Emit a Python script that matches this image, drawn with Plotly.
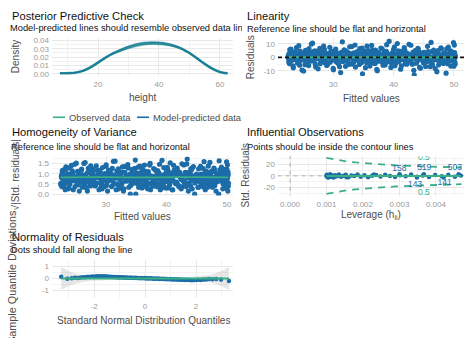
import numpy as np
import plotly.graph_objects as go

# ---------------- data ----------------
# Posterior predictive check: density curves
dens_x = [7.5, 10, 12.5, 15, 17.5, 20, 22.5, 25, 27.5, 30, 32.5, 35, 37.5, 40,
          42.5, 45, 47.5, 50, 52.5, 55, 57.5, 60, 62.5]
obs_density = [0.0007, 0.0008, 0.0014, 0.0036, 0.0078, 0.0135, 0.0195, 0.0245, 0.0283,
               0.0318, 0.0345, 0.0362, 0.0368, 0.0365, 0.0355, 0.0335, 0.0300, 0.0250,
               0.0185, 0.0120, 0.0062, 0.0022, 0.0006]
pred_density_1 = [0.0006, 0.0009, 0.0016, 0.0034, 0.0072, 0.0128, 0.0190, 0.0246, 0.0292,
                  0.0332, 0.0362, 0.0380, 0.0386, 0.0382, 0.0368, 0.0342, 0.0304, 0.0250,
                  0.0182, 0.0116, 0.0058, 0.0020, 0.0005]
pred_density_2 = [0.0008, 0.0011, 0.0019, 0.0043, 0.0088, 0.0146, 0.0202, 0.0246, 0.0278,
                  0.0304, 0.0326, 0.0344, 0.0352, 0.0350, 0.0342, 0.0326, 0.0296, 0.0252,
                  0.0192, 0.0128, 0.0070, 0.0026, 0.0008]
pred_density_3 = [0.0005, 0.0007, 0.0012, 0.0031, 0.0070, 0.0130, 0.0198, 0.0256, 0.0298,
                  0.0330, 0.0354, 0.0370, 0.0377, 0.0376, 0.0366, 0.0344, 0.0306, 0.0254,
                  0.0186, 0.0117, 0.0058, 0.0019, 0.0005]
pred_density_4 = [0.0007, 0.0009, 0.0015, 0.0038, 0.0082, 0.0140, 0.0194, 0.0238, 0.0272,
                  0.0306, 0.0334, 0.0350, 0.0358, 0.0356, 0.0348, 0.0330, 0.0298, 0.0248,
                  0.0184, 0.0122, 0.0064, 0.0024, 0.0007]
pred_density_5 = [0.0006, 0.0008, 0.0013, 0.0033, 0.0074, 0.0134, 0.0200, 0.0252, 0.0290,
                  0.0322, 0.0348, 0.0366, 0.0374, 0.0371, 0.0360, 0.0338, 0.0300, 0.0247,
                  0.0180, 0.0115, 0.0059, 0.0021, 0.0006]
pred_densities = [pred_density_1, pred_density_2, pred_density_3, pred_density_4, pred_density_5]

# Fitted values and residuals (linearity / homogeneity), two batches of observations
fitted_a = [
    22.52, 22.61, 22.70, 22.79, 22.93,
    23.04, 23.18, 23.33, 23.41, 23.62, 23.77, 23.90,
    24.06, 24.15, 24.37, 24.49, 24.58, 24.81, 24.95,
    25.02, 25.23, 25.31, 25.50, 25.66, 25.74, 25.97,
    26.11, 26.20, 26.42, 26.55, 26.63, 26.86, 26.92,
    27.08, 27.27, 27.35, 27.54, 27.69, 27.83, 27.96,
    28.05, 28.21, 28.39, 28.47, 28.64, 28.78, 28.91,
    29.13, 29.24, 29.36, 29.52, 29.71, 29.80, 29.98,
    30.07, 30.19, 30.40, 30.46, 30.61, 30.85, 30.93,
    31.10, 31.22, 31.34, 31.57, 31.68, 31.79, 31.94,
    32.03, 32.26, 32.38, 32.45, 32.67, 32.72, 32.89,
    33.12, 33.20, 33.43, 33.51, 33.60, 33.84, 33.97,
    34.09, 34.17, 34.31, 34.56, 34.70, 34.76, 34.92,
    35.01, 35.25, 35.33, 35.48, 35.65, 35.81, 35.95,
    36.14, 36.22, 36.36, 36.45, 36.53, 36.60, 36.88, 36.99,
    37.06, 37.29, 37.41, 37.50, 37.73, 37.82, 37.94,
    38.10, 38.18, 38.35, 38.58, 38.66, 38.79, 38.97,
    39.04, 39.26, 39.39, 39.47, 39.63, 39.87, 39.91,
    40.12, 40.21, 40.33, 40.52, 40.69, 40.75, 40.96,
    41.08, 41.16, 41.38, 41.49, 41.64, 41.83, 41.92,
    42.05, 42.27, 42.34, 42.55, 42.68, 42.77, 42.99,
    43.11, 43.19, 43.42, 43.50, 43.61, 43.86, 43.93,
    44.02, 44.24, 44.30, 44.51, 44.72, 44.80, 44.97,
    45.13, 45.20, 45.37, 45.54, 45.62, 45.89, 45.94,
    46.07, 46.28, 46.35, 46.46, 46.71, 46.78, 46.95,
    47.09, 47.17, 47.40, 47.53, 47.66, 47.84, 47.98,
    48.03, 48.25, 48.32, 48.57, 48.63, 48.81, 48.90,
    49.15, 49.23, 49.44, 49.48, 49.70, 49.76, 49.93,
    50.04, 50.11, 50.14, 50.17, 50.21,
]
residuals_a = [
    1.2, -3.4, 0.6, 5.8, -2.1, -0.7, 3.9, -6.3, 2.4, -1.5,
    0.3, 7.2, -4.1, 1.8, -2.9, 4.6, -0.2, -9.3, 2.0, 3.1,
    -1.1, -5.4, 0.9, 2.7, -3.6, 6.5, -0.5, 1.4, -2.4, 10.4,
    4.0, -1.8, 0.1, -7.0, 2.2, -0.9, 3.3, 5.1, -4.7, 1.6,
    -2.6, 0.7, 8.3, -1.3, -3.9, 2.9, -5.9, 0.4, 1.1, -0.3,
    3.6, -2.2, 4.4, -8.1, 0.8, -1.6, 6.0, -3.1, 2.5, -4.4,
    -0.6, 1.9, -11.2, 3.7, -2.7, 0.2, 5.5, -1.0, -6.6, 2.3,
    0.5, -3.3, 1.3, 7.8, -0.1, -4.9, 2.6, 3.4, -1.9, 9.1,
    -2.0, 4.2, -0.8, 1.0, -5.2, 2.8, -3.7, 6.9, 0.0, -1.4,
    3.0, -7.6, 1.5, -2.5, 4.9, -0.4, 0.6, -3.0, 8.8, -1.7,
    -4.3, 2.1, 0.3, 5.3, -1.2, -9.8, 3.5, -2.8, 1.7, 0.9,
    -0.7, 6.3, -3.5, 2.4, -5.6, 1.1, 4.5, -0.2, -2.3, 11.9,
    1.8, -1.1, -4.0, 3.2, 0.4, 7.5, -6.1, 2.0, -0.9, -3.2,
    4.7, 0.2, -2.0, -8.7, 1.4, 3.9, -1.5, 5.7, -4.6, 0.6,
    -3.8, 2.6, 9.6, -0.6, -1.9, 1.2, -5.0, 3.6, -12.8, 2.9,
    0.1, -2.6, 4.1, 6.7, -0.3, -7.3, 1.9, -1.3, 3.0, -4.2,
    2.2, -0.5, -3.4, 1.5, 8.1, -2.1, 0.8, -6.8, 4.3, -1.0,
    -5.5, 3.8, 0.5, -1.7, 2.7, -10.5, 5.0, -2.9, 1.0, 7.0,
    -0.8, 1.6, -4.5, 3.3, -2.4, 0.0, 6.2, -3.9, 2.5, -1.6,
    4.8, -6.4, 1.3, -0.4, 10.9, -2.7, 3.5, -0.1, -5.1, 0.7,
]
fitted_b = [
    22.55, 22.66, 22.75, 22.86, 22.98,
    23.09, 23.25, 23.37, 23.50, 23.56, 23.70, 23.85,
    24.02, 24.11, 24.28, 24.42, 24.64, 24.73, 24.88,
    25.08, 25.17, 25.40, 25.45, 25.59, 25.81, 25.92,
    26.04, 26.26, 26.35, 26.49, 26.70, 26.77, 26.97,
    27.01, 27.19, 27.44, 27.48, 27.61, 27.76, 27.90,
    28.12, 28.16, 28.30, 28.53, 28.70, 28.84, 28.97,
    29.05, 29.18, 29.42, 29.47, 29.64, 29.75, 29.91,
    30.02, 30.26, 30.33, 30.53, 30.68, 30.77, 30.98,
    31.04, 31.16, 31.41, 31.50, 31.62, 31.86, 31.99,
    32.09, 32.19, 32.32, 32.52, 32.60, 32.80, 32.95,
    33.06, 33.27, 33.36, 33.47, 33.68, 33.77, 33.91,
    34.02, 34.24, 34.38, 34.49, 34.63, 34.84, 34.97,
    35.08, 35.18, 35.40, 35.55, 35.59, 35.73, 35.88,
    36.06, 36.28, 36.31, 36.40, 36.49, 36.67, 36.75, 36.93,
    37.12, 37.21, 37.35, 37.57, 37.63, 37.88, 37.99,
    38.04, 38.25, 38.41, 38.47, 38.72, 38.85, 38.91,
    39.10, 39.19, 39.32, 39.55, 39.69, 39.80, 39.97,
    40.05, 40.27, 40.40, 40.46, 40.61, 40.83, 40.90,
    41.02, 41.24, 41.30, 41.56, 41.71, 41.77, 41.98,
    42.11, 42.19, 42.42, 42.48, 42.61, 42.85, 42.93,
    43.04, 43.26, 43.35, 43.57, 43.68, 43.79, 43.98,
    44.09, 44.17, 44.38, 44.44, 44.65, 44.87, 44.91,
    45.06, 45.28, 45.31, 45.47, 45.70, 45.78, 45.99,
    46.13, 46.21, 46.41, 46.53, 46.64, 46.86, 46.90,
    47.03, 47.24, 47.33, 47.47, 47.59, 47.77, 47.91,
    48.10, 48.18, 48.40, 48.49, 48.70, 48.75, 48.96,
    49.08, 49.30, 49.36, 49.55, 49.62, 49.83, 49.97,
    50.01, 50.07, 50.12, 50.19, 50.23,
]
residuals_b = [
    -0.9, 2.8, -4.6, 1.4, 6.1, -2.3, 0.2, -7.7, 3.5, -1.3,
    4.3, -0.4, 1.0, -3.0, 8.6, -5.7, 2.2, -1.9, 0.6, -10.0,
    2.0, 5.2, -3.8, -0.1, 1.7, -6.0, 3.9, -2.6, 9.8, 0.8,
    -1.6, 0.4, 4.8, -4.9, 2.5, -0.7, -8.4, 1.2, 6.6, -3.3,
    3.1, -1.4, 0.9, 5.9, -2.9, -0.2, 2.6, -5.3, 1.5, 7.4,
    -3.6, 1.8, -0.6, 3.6, -9.0, 0.1, 4.5, -2.0, 2.9, -4.4,
    0.7, -6.9, 2.3, -1.1, 11.4, -3.1, 1.1, 5.0, -0.3, -2.7,
    4.1, -0.8, -5.1, 2.7, 0.3, 7.9, -1.8, -3.5, 1.9, -7.1,
    -0.5, 3.4, 0.0, -2.2, 6.4, -4.1, 1.3, -12.1, 2.4, 4.7,
    -1.2, 0.5, -3.9, 8.2, -0.9, 2.1, -6.4, 3.8, -2.4, 1.0,
    5.4, -1.5, 0.8, -4.5, 2.8, -8.8, 0.2, 3.2, -0.7, 6.8,
    -2.8, 1.6, -5.8, 0.6, 4.0, -1.0, 9.3, -3.4, 2.0, -0.4,
    0.9, -7.4, 3.0, -1.7, 5.6, -2.5, 0.4, -4.0, 1.4, 10.2,
    -3.2, 2.6, -0.2, 4.4, -6.2, 1.1, -1.4, 7.1, -0.8, 3.3,
    -5.0, 0.3, 2.2, -2.1, 8.9, -3.7, 1.7, -0.6, -9.5, 4.9,
    1.2, -4.3, 0.7, 6.0, -1.9, 3.5, -7.9, 0.0, 2.5, -2.9,
    3.7, -0.5, -6.7, 1.8, 4.2, -1.3, 0.6, -3.6, 11.0, -0.2,
    -2.2, 5.3, 1.4, -8.2, 2.9, -0.9, 4.6, -5.5, 0.5, 1.9,
    6.5, -3.0, 0.1, -1.6, 3.1, -11.6, 2.1, -4.7, 7.6, -0.3,
    -1.1, 4.0, -2.6, 0.8, -6.5, 2.4, 9.0, -0.6, -3.9, 1.3,
]
smooth_x = [22.5, 29.0, 36.0, 43.0, 50.2]
lin_smooth_y = [0.2, -0.1, 0.1, -0.1, 0.1]
homog_smooth_y = [0.82, 0.83, 0.82, 0.83, 0.82]

# Influential observations
inf_leverage = [
    0.00100, 0.00101, 0.00101, 0.00102, 0.00103, 0.00104, 0.00106, 0.00108, 0.00110, 0.00113,
    0.00116, 0.00120, 0.00124, 0.00129, 0.00134, 0.00140, 0.00146, 0.00153, 0.00160, 0.00168,
    0.00176, 0.00185, 0.00194, 0.00204, 0.00214, 0.00225, 0.00236, 0.00248, 0.00261, 0.00274,
    0.00288, 0.00302, 0.00317, 0.00332, 0.00348, 0.00364, 0.00381, 0.00398, 0.00416, 0.00434,
    0.00452, 0.00468, 0.00300, 0.00367, 0.00462, 0.00348, 0.00421, 0.00155, 0.00230, 0.00105,
]
inf_std_resid = [
    0.3, -1.2, 2.1, -0.5, 1.6, -2.4, 0.9, -0.1, 2.7, -1.8,
    0.5, -2.9, 1.3, -0.8, 2.3, -1.4, 0.2, 1.9, -2.2, 0.7,
    -0.4, 2.5, -1.6, 1.0, -2.6, 0.4, 1.7, -1.1, 2.0, -0.3,
    -1.9, 1.2, -0.6, 2.4, -1.3, 0.8, -2.1, 1.5, -0.7, 2.2,
    -1.5, 0.6, 2.8, 2.9, 2.8, -2.9, -2.7, -2.5, 2.6, -2.8,
]
inf_smooth_x = [0.00100, 0.00200, 0.00300, 0.00400, 0.00468]
inf_smooth_y = [0.0, 0.1, 0.0, -0.1, 0.0]
inf_label_text = ["158", "519", "503", "143", "141"]
inf_label_x = [0.00300, 0.00368, 0.00452, 0.00343, 0.00424]
inf_label_y = [11.4, 14.0, 14.0, -16.0, -12.0]
cook_lev = [0.0010, 0.0012, 0.0015, 0.0018, 0.0021, 0.0025, 0.0029, 0.0033, 0.0037, 0.0041, 0.0045, 0.0047]
cook_upper = [31.6, 28.8, 25.8, 23.5, 21.8, 20.0, 18.5, 17.4, 16.4, 15.6, 14.9, 14.6]
cook_lower = [-31.6, -28.8, -25.8, -23.5, -21.8, -20.0, -18.5, -17.4, -16.4, -15.6, -14.9, -14.6]
cook_label = "0.5"
cook_label_x = [0.00367, 0.00367]
cook_label_y = [32.0, -30.0]

# Normality of residuals (detrended QQ)
qq_x = [
    -3.29, -3.05, -2.88, -2.75, -2.63, -2.52, -2.42, -2.33, -2.24, -2.16,
    -2.08, -2.00, -1.93, -1.86, -1.79, -1.72, -1.65, -1.59, -1.52, -1.46,
    -1.40, -1.34, -1.28, -1.22, -1.16, -1.10, -1.04, -0.98, -0.92, -0.86,
    -0.80, -0.74, -0.68, -0.62, -0.56, -0.50, -0.44, -0.38, -0.32, -0.26,
    -0.20, -0.14, -0.08, -0.02, 0.04, 0.10, 0.16, 0.22, 0.28, 0.34,
    0.40, 0.46, 0.52, 0.58, 0.64, 0.70, 0.76, 0.82, 0.88, 0.94,
    1.00, 1.06, 1.12, 1.18, 1.24, 1.30, 1.36, 1.42, 1.49, 1.56,
    1.63, 1.70, 1.77, 1.84, 1.92, 2.00, 2.09, 2.18, 2.28, 2.39,
    2.51, 2.64, 2.79, 2.98, 3.29,
]
qq_dev = [
    0.15, -0.01, 0.03, 0.06, 0.05, 0.09, 0.12, 0.11, 0.15, 0.14,
    0.17, 0.15, 0.18, 0.19, 0.17, 0.20, 0.18, 0.19, 0.16, 0.17,
    0.14, 0.16, 0.13, 0.14, 0.12, 0.13, 0.10, 0.12, 0.09, 0.11,
    0.08, 0.09, 0.07, 0.08, 0.06, 0.07, 0.05, 0.06, 0.04, 0.05,
    0.03, 0.05, 0.02, 0.04, 0.01, 0.03, 0.00, 0.02, 0.01, -0.01,
    0.01, -0.02, 0.00, -0.03, -0.01, -0.04, -0.02, -0.05, -0.03, -0.06,
    -0.04, -0.07, -0.05, -0.08, -0.06, -0.09, -0.08, -0.10, -0.09, -0.11,
    -0.10, -0.12, -0.11, -0.13, -0.11, -0.12, -0.10, -0.11, -0.08, -0.07,
    -0.04, -0.05, -0.03, -0.08, -0.19,
]
band_x = [-3.29, -3.0, -2.75, -2.5, -2.25, -2.0, -1.5, -1.0, -0.5, 0.0,
          0.5, 1.0, 1.5, 2.0, 2.25, 2.5, 2.75, 3.0, 3.29]
band_hw = [0.95, 0.62, 0.42, 0.30, 0.22, 0.17, 0.12, 0.10, 0.09, 0.09,
           0.09, 0.10, 0.12, 0.17, 0.22, 0.30, 0.42, 0.62, 0.95]

# Tick labels
dens_xticks, dens_xlabels = [20, 40, 60], ["20", "40", "60"]
dens_yticks, dens_ylabels = [0, 0.01, 0.02, 0.03, 0.04], ["0.00", "0.01", "0.02", "0.03", "0.04"]
fit_xticks, fit_xlabels = [30, 40, 50], ["30", "40", "50"]
lin_yticks, lin_ylabels = [-10, 0, 10], ["-10", "0", "10"]
hom_yticks, hom_ylabels = [0, 0.5, 1.0, 1.5], ["0.0", "0.5", "1.0", "1.5"]
inf_xticks, inf_xlabels = [0, 0.001, 0.002, 0.003, 0.004], ["0.000", "0.001", "0.002", "0.003", "0.004"]
inf_yticks, inf_ylabels = [-20, 0, 20], ["-20", "0", "20"]
qq_xticks, qq_xlabels = [-2, 0, 2], ["-2", "0", "2"]
qq_yticks, qq_ylabels = [-1, 0, 1], ["-1", "0", "1"]

# ---------------- style ----------------
W, H = 474, 338
FONT = "Liberation Sans, Arial, sans-serif"
GREEN = "#3aaf85"
BLUE = "#1b6ca8"
GRID = "#e8e8e8"
GRID_MINOR = "#f3f3f3"
TICKC = "#9a9a9a"
AXT = "#4d4d4d"
TITLEC = "#111111"


def fx(px):
    return px / W


def fy(py):
    return 1 - py / H


LEFT = (52, 233)
RIGHT = (278, 464)
ROW1 = (37, 75)
ROW2 = (156.5, 196.5)
ROW3 = (262, 300)

fitted = fitted_a + fitted_b
residuals = residuals_a + residuals_b
# derived statistic: sqrt(|standardized residuals|)
res_arr = np.array(residuals)
homog_y = np.sqrt(np.abs(res_arr / res_arr.std()))

fig = go.Figure()

# Panel 1: posterior predictive check
fig.add_trace(go.Scatter(x=dens_x, y=obs_density, mode="lines", line=dict(color=GREEN, width=2.6, shape="spline"),
                         xaxis="x", yaxis="y", name="Observed data"))
for pd_ in pred_densities:
    fig.add_trace(go.Scatter(x=dens_x, y=pd_, mode="lines", line=dict(color=BLUE, width=1.3, shape="spline"),
                             opacity=0.35, xaxis="x", yaxis="y", hoverinfo="skip"))

# Panel 2: linearity
fig.add_trace(go.Scatter(x=fitted, y=residuals, mode="markers", marker=dict(color=BLUE, size=5.2, line=dict(width=0)),
                         xaxis="x2", yaxis="y2"))
fig.add_trace(go.Scatter(x=smooth_x, y=lin_smooth_y, mode="lines", line=dict(color=GREEN, width=2, shape="spline"),
                         xaxis="x2", yaxis="y2"))
fig.add_trace(go.Scatter(x=[20.83, 51.67], y=[0, 0], mode="lines", line=dict(color="#111111", width=1.6, dash="4px,3px"),
                         xaxis="x2", yaxis="y2"))

# Panel 3: homogeneity
fig.add_trace(go.Scatter(x=fitted, y=homog_y, mode="markers", marker=dict(color=BLUE, size=5.2, line=dict(width=0)),
                         xaxis="x3", yaxis="y3"))
fig.add_trace(go.Scatter(x=smooth_x, y=homog_smooth_y, mode="lines", line=dict(color=GREEN, width=1.8, shape="spline"),
                         xaxis="x3", yaxis="y3"))

# Panel 4: influential observations
fig.add_trace(go.Scatter(x=[0, 0], y=[-40, 40], mode="lines", line=dict(color="#b0b0b0", width=1, dash="4px,4px"),
                         xaxis="x4", yaxis="y4"))
fig.add_trace(go.Scatter(x=[-0.001, 0.006], y=[0, 0], mode="lines", line=dict(color="#b0b0b0", width=1, dash="4px,4px"),
                         xaxis="x4", yaxis="y4"))
fig.add_trace(go.Scatter(x=cook_lev, y=cook_upper, mode="lines", line=dict(color=GREEN, width=1.8, dash="7px,6px"),
                         xaxis="x4", yaxis="y4"))
fig.add_trace(go.Scatter(x=cook_lev, y=cook_lower, mode="lines", line=dict(color=GREEN, width=1.8, dash="7px,6px"),
                         xaxis="x4", yaxis="y4"))
fig.add_trace(go.Scatter(x=inf_leverage, y=inf_std_resid, mode="markers", marker=dict(color=BLUE, size=4.5),
                         xaxis="x4", yaxis="y4"))
fig.add_trace(go.Scatter(x=inf_smooth_x, y=inf_smooth_y, mode="lines", line=dict(color=GREEN, width=2),
                         xaxis="x4", yaxis="y4"))
fig.add_trace(go.Scatter(x=inf_label_x, y=inf_label_y, mode="text", text=inf_label_text,
                         textfont=dict(color=BLUE, size=8.5, family=FONT), xaxis="x4", yaxis="y4"))
fig.add_trace(go.Scatter(x=cook_label_x, y=cook_label_y, mode="text", text=[cook_label, cook_label],
                         textfont=dict(color=GREEN, size=8.5, family=FONT), xaxis="x4", yaxis="y4"))

# Panel 5: normality of residuals
band_upper = list(np.array(band_hw))
band_lower = list(-np.array(band_hw))
fig.add_trace(go.Scatter(x=band_x + band_x[::-1], y=band_upper + band_lower[::-1], mode="lines",
                         fill="toself", fillcolor="rgba(190,190,190,0.38)", line=dict(width=0),
                         xaxis="x5", yaxis="y5"))
fig.add_trace(go.Scatter(x=qq_x, y=qq_dev, mode="markers", marker=dict(color=BLUE, size=4.5),
                         xaxis="x5", yaxis="y5"))
fig.add_trace(go.Scatter(x=[-3.29, 3.29], y=[0, 0], mode="lines", line=dict(color=GREEN, width=2),
                         xaxis="x5", yaxis="y5"))

# clipped subtitle of panel 1 (it runs into the next panel in the original)
fig.add_trace(go.Scatter(x=[10 / 242], y=[0.5], mode="text",
                         text=["Model-predicted lines should resemble observed data lines"],
                         textposition="middle right", cliponaxis=True,
                         textfont=dict(size=9.3, color=TITLEC, family=FONT), xaxis="x6", yaxis="y6"))


def axis(dom_px, rng, tickvals, ticktext, minor_vals, horizontal=True, anchor=None):
    if horizontal:
        domain = [fx(dom_px[0]), fx(dom_px[1])]
    else:
        domain = [fy(dom_px[1]), fy(dom_px[0])]
    return dict(domain=domain, range=rng, anchor=anchor, tickmode="array", tickvals=tickvals, ticktext=ticktext,
                showgrid=True, gridcolor=GRID, gridwidth=1, zeroline=False, showline=False, ticks="",
                tickfont=dict(size=8, color=TICKC, family=FONT), fixedrange=True,
                ticklabelstandoff=2,
                minor=dict(tickmode="array", tickvals=minor_vals, showgrid=True, gridcolor=GRID_MINOR, gridwidth=1))


layout = dict(
    width=W, height=H, margin=dict(l=0, r=0, t=0, b=0),
    paper_bgcolor="white", plot_bgcolor="white", showlegend=False,
    font=dict(family=FONT),
    xaxis=axis(LEFT, [4.9, 64.3], dens_xticks, dens_xlabels, [10, 30, 50], True, "y"),
    yaxis=axis(ROW1, [-0.0024, 0.0424], dens_yticks, dens_ylabels, [0.005, 0.015, 0.025, 0.035], False, "x"),
    xaxis2=axis(RIGHT, [20.83, 51.67], fit_xticks, fit_xlabels, [25, 35, 45], True, "y2"),
    yaxis2=axis(ROW1, [-13.6, 13.9], lin_yticks, lin_ylabels, [-5, 5], False, "x2"),
    xaxis3=axis(LEFT, [21.07, 50.99], fit_xticks, fit_xlabels, [25, 35, 45], True, "y3"),
    yaxis3=axis(ROW2, [-0.07, 1.86], hom_yticks, hom_ylabels, [0.25, 0.75, 1.25, 1.75], False, "x3"),
    xaxis4=axis(RIGHT, [-0.00033, 0.00477], inf_xticks, inf_xlabels, [0.0005, 0.0015, 0.0025, 0.0035, 0.0045], True, "y4"),
    yaxis4=axis(ROW2, [-34.5, 34.5], inf_yticks, inf_ylabels, [-30, -10, 10, 30], False, "x4"),
    xaxis5=axis(LEFT, [-3.65, 3.45], qq_xticks, qq_xlabels, [-3, -1, 1, 3], True, "y5"),
    yaxis5=axis(ROW3, [-1.57, 1.53], qq_yticks, qq_ylabels, [-1.5, -0.5, 0.5, 1.5], False, "x5"),
    xaxis6=dict(domain=[0, fx(242)], range=[0, 1], visible=False, anchor="y6", fixedrange=True),
    yaxis6=dict(domain=[fy(33), fy(21)], range=[0, 1], visible=False, anchor="x6", fixedrange=True),
)
fig.update_layout(**layout)


def txt(s, x, y, size, color, xanchor="left", angle=0):
    fig.add_annotation(text=s, x=fx(x), y=fy(y), xref="paper", yref="paper", xanchor=xanchor, yanchor="middle",
                       showarrow=False, textangle=angle, font=dict(size=size, color=color, family=FONT))


# titles
txt("Posterior Predictive Check", 10, 14, 11.2, TITLEC)
txt("Linearity", 245, 14, 11.2, TITLEC)
txt("Reference line should be flat and horizontal", 245, 27, 9.3, TITLEC)
txt("Homogeneity of Variance", 10, 132, 11.2, TITLEC)
txt("Reference line should be flat and horizontal", 9, 147, 9.3, TITLEC)
txt("Influential Observations", 245, 132, 11.2, TITLEC)
txt("Points should be inside the contour lines", 245, 147, 9.3, TITLEC)
txt("Normality of Residuals", 10, 239, 11.2, TITLEC)
txt("Dots should fall along the line", 9, 252, 9.3, TITLEC)

# axis titles
txt("height", 142.5, 97, 10, AXT, "center")
txt("Fitted values", 371, 97.5, 10, AXT, "center")
txt("Fitted values", 142.5, 218, 10, AXT, "center")
txt("Leverage (h<sub>ii</sub>)", 371, 216, 10, AXT, "center")
txt("Standard Normal Distribution Quantiles", 143, 323, 10, AXT, "center")
txt("Density", 15, 56, 10, AXT, "center", -90)
txt("Residuals", 250, 56, 10, AXT, "center", -90)
txt("√|Std. residuals|", 15, 176, 10, AXT, "center", -90)
txt("Std. Residuals", 245, 176, 10, AXT, "center", -90)
txt("Sample Quantile Deviations", 12, 279, 10.8, AXT, "center", -90)

# manual legend for panel 1
fig.add_shape(type="line", xref="paper", yref="paper", x0=fx(53), x1=fx(65), y0=fy(117), y1=fy(117),
              line=dict(color=GREEN, width=1.6))
txt("Observed data", 67, 117, 9.4, AXT)
fig.add_shape(type="line", xref="paper", yref="paper", x0=fx(137), x1=fx(149), y0=fy(117), y1=fy(117),
              line=dict(color=BLUE, width=1.6))
txt("Model-predicted data", 151, 117, 9.4, AXT)

fig.write_html("out.html")
